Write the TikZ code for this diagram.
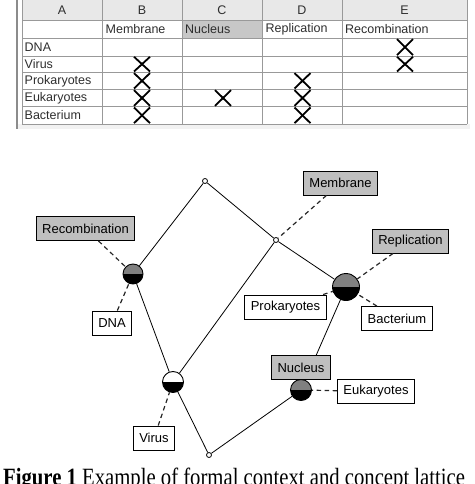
\documentclass[tikz,border=0pt]{standalone}
\usepackage{fontspec}
\setmainfont{Liberation Serif}
\setsansfont{Liberation Sans}
\pgfdeclarelayer{bg}
\pgfsetlayers{bg,main}
\tikzset{
  tabtxt/.style={font=\sffamily\fontsize{12.5}{14}\selectfont, text=black!82, inner sep=0pt},
  gridl/.style={draw=black!40, line width=0.8pt},
  xmark/.style={line width=1.8pt, black},
  smallnode/.style={circle, draw, fill=white, inner sep=0pt, minimum size=5pt, line width=0.8pt},
  concept/.style 2 args={circle, draw, fill=white, inner sep=0pt, line width=0.9pt,
    path picture={
      \fill[#1] (path picture bounding box.north west) rectangle (path picture bounding box.east);
      \fill[#2] (path picture bounding box.west) rectangle (path picture bounding box.south east);
    }},
  edge/.style={line width=0.8pt, black},
  dashl/.style={dashed, dash pattern=on 4.5pt off 3.5pt, line width=1.2pt, black!85},
  lab/.style={draw, fill=white, line width=0.9pt, font=\sffamily\fontsize{13}{15}\selectfont,
    inner xsep=6pt, inner ysep=0pt, minimum height=24pt},
  labg/.style={lab, fill=gray!50},
}
\begin{document}
\begin{tikzpicture}[x=1pt,y=-1pt]
\useasboundingbox (0,0) rectangle (474,484);
% ---------- table ----------
\fill[black!5] (17,124) rectangle (470,129);
\fill[black!9] (22,0) rectangle (467,20.7);
\fill[black!22] (182,20.7) rectangle (262,38.3);
\draw[black!45, line width=1.2pt] (17,0) -- (17,129);
\foreach \yy in {20.7,38.3,56,72.3,89.3,106.7,124} \draw[gridl] (22,\yy) -- (467,\yy);
\foreach \xx in {22,102,182,262,342,467} \draw[gridl] (\xx,0) -- (\xx,124);
% header letters
\node[tabtxt] (hA) at (62,10.5) {A};
\node[tabtxt] (hB) at (142,10.5) {B};
\node[tabtxt] (hC) at (222,10.5) {C};
\node[tabtxt] (hD) at (302,10.5) {D};
\node[tabtxt] (hE) at (404.5,10.5) {E};
% attribute row
\node[tabtxt, anchor=west] (aB) at (105.5,29.5) {Membrane};
\node[tabtxt, anchor=west] (aC) at (185,29.5) {Nucleus};
\node[tabtxt, anchor=west] (aD) at (265.5,29.5) {Replication};
\node[tabtxt, anchor=west] (aE) at (345,29.5) {Recombination};
% objects
\node[tabtxt, anchor=west] (oDNA) at (24.5,47.2) {DNA};
\node[tabtxt, anchor=west] (oVir) at (24.5,64.2) {Virus};
\node[tabtxt, anchor=west] (oPro) at (24.5,80.8) {Prokaryotes};
\node[tabtxt, anchor=west] (oEuk) at (24.5,98) {Eukaryotes};
\node[tabtxt, anchor=west] (oBac) at (24.5,115.4) {Bacterium};
% crosses: column centre / row top / row bottom
\foreach \cx/\ta/\tb in {405/38.3/56, 142/56/72.3, 405/56/72.3, 142/72.3/89.3, 302.5/72.3/89.3,
  142/89.3/106.7, 223/89.3/106.7, 302.5/89.3/106.7, 142/106.7/124, 302.5/106.7/124}{
  \draw[xmark] (\cx-8,\ta+0.8) -- (\cx+8,\tb-0.8);
  \draw[xmark] (\cx+8,\ta+0.8) -- (\cx-8,\tb-0.8);
}
% ---------- lattice ----------
\node[smallnode] (top) at (205,181) {};
\node[smallnode] (memb) at (276,240) {};
\node[concept={gray}{black}, minimum size=20pt] (recomb) at (133,274) {};
\node[concept={gray}{black}, minimum size=27pt] (repl) at (346,287) {};
\node[concept={white}{black}, minimum size=21pt] (virus) at (173,382) {};
\node[concept={gray}{black}, minimum size=21pt] (euk) at (301,390) {};
\node[smallnode] (bot) at (209,455) {};
\begin{pgfonlayer}{bg}
\draw[edge] (top) -- (recomb);
\draw[edge] (top) -- (memb);
\draw[edge] (memb) -- (repl);
\draw[edge] (memb) -- (virus);
\draw[edge] (recomb) -- (virus);
\draw[edge] (repl) -- (euk);
\draw[edge] (virus) -- (bot);
\draw[edge] (euk) -- (bot);
\end{pgfonlayer}
% labels
\node[labg] (lMemb) at (340.5,183) {Membrane};
\node[labg] (lRecomb) at (85.5,228.5) {Recombination};
\node[labg] (lRepl) at (410.5,241) {Replication};
\node[labg] (lNuc) at (301,367.5) {Nucleus};
\node[lab] (lDNA) at (112,323) {DNA};
\node[lab] (lPro) at (285.5,307) {Prokaryotes};
\node[lab] (lBac) at (397,318.5) {Bacterium};
\node[lab] (lEuk) at (376,391.5) {Eukaryotes};
\node[lab] (lVir) at (154,438) {Virus};
\draw[dashl] (lMemb) -- (memb);
\draw[dashl] (lRecomb) -- (recomb);
\draw[dashl] (lRepl) -- (repl);
\draw[dashl] (lDNA) -- (recomb);
\draw[dashl] (lPro) -- (repl);
\draw[dashl] (lBac) -- (repl);
\draw[dashl] (lEuk) -- (euk);
\draw[dashl] (lVir) -- (virus);
% caption
\node[anchor=base west, inner sep=0pt, yscale=1.2, transform shape, font=\fontsize{20.7}{24}\selectfont] (cap) at (3,485.5)
  {\textbf{Figure 1} Example of formal context and concept lattice};
\end{tikzpicture}
\end{document}
